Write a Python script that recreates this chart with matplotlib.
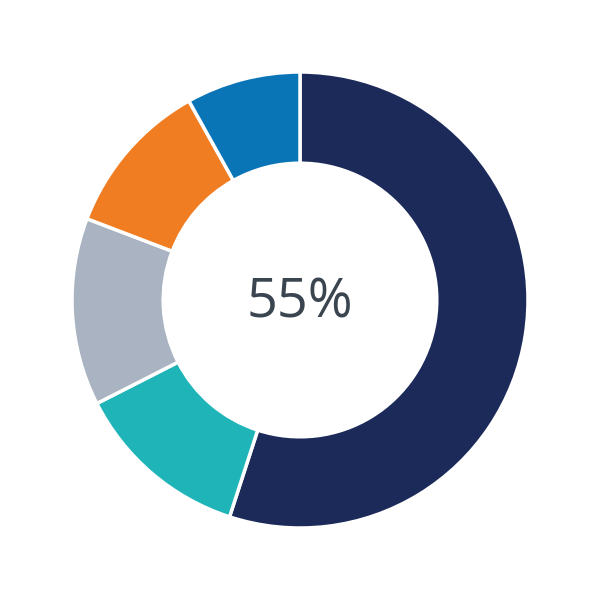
import matplotlib
matplotlib.use("Agg")
import matplotlib.pyplot as plt

# udzialy segmentow, zgodnie z ruchem wskazowek zegara od gory
labels = ["A", "B", "C", "D", "E"]
values = [55, 12.5, 13.3, 11.1, 8.1]
colors = ["#1b2a59", "#1fb5b8", "#a9b3c1", "#f07d22", "#0a75b6"]
center_text = "55%"

fig = plt.figure(figsize=(6, 6), dpi=100)
ax = fig.add_axes([0, 0, 1, 1])

ax.pie(values, colors=colors, startangle=90, counterclock=False,
       radius=1.0, wedgeprops=dict(width=0.4, edgecolor="white", linewidth=2.5))

ax.text(0, -0.015, center_text, ha="center", va="center", fontsize=39,
        color="#3b4550", family=["Open Sans", "DejaVu Sans"])

lim = 300 / 228
ax.set_xlim(-lim, lim)
ax.set_ylim(-lim, lim)
ax.set_aspect("equal")
ax.axis("off")

fig.savefig("out.png", dpi=100, facecolor="white")
